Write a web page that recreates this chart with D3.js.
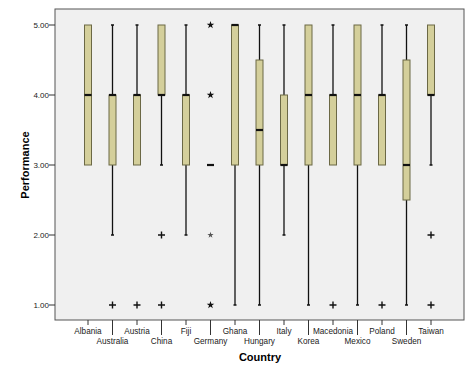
<!DOCTYPE html>
<html><head><meta charset="utf-8">
<script src="https://cdn.jsdelivr.net/npm/d3@7"></script>
<style>body{margin:0;background:#fff}svg{display:block}text{font-family:"Liberation Sans",Arial,sans-serif}</style>
</head><body><svg id="c" width="474" height="379"></svg>
<script>
const countries = ["Albania","Australia","Austria","China","Fiji","Germany","Ghana","Hungary","Italy","Korea","Macedonia","Mexico","Poland","Sweden","Taiwan"];
const whiskerLow  = [3,2,3,3,2,3,1,1,2,1,3,1,3,1,3];
const q1          = [3,3,3,4,3,3,3,3,3,3,3,3,3,2.5,4];
const median      = [4,4,4,4,4,3,5,3.5,3,4,4,4,4,3,4];
const q3          = [5,4,4,5,4,3,5,4.5,4,5,4,5,4,4.5,5];
const whiskerHigh = [5,5,5,4,5,3,5,5,5,5,5,5,5,5,4];
const outliers    = [[],[1],[1],[2,1],[],[],[],[],[],[],[1],[],[1],[],[2,1]];
const extremes    = [[],[],[],[],[],[5,4,2,1],[],[],[],[],[],[],[],[],[]];
const yTicks = [1,2,3,4,5];

const svg = d3.select("#c");
const L=55,R=464,T=9,B=320;
const x = d3.scalePoint().domain(countries).range([88,431]);
const y = d3.scaleLinear().domain([1,5]).range([305,25]);

svg.append("rect").attr("x",L).attr("y",T).attr("width",R-L).attr("height",B-T)
  .attr("fill","#f0f0f0").attr("stroke","#555").attr("stroke-width",1);

// y axis
const yAx = svg.append("g");
yTicks.forEach(t=>{
  yAx.append("line").attr("x1",L-6).attr("x2",L).attr("y1",y(t)).attr("y2",y(t)).attr("stroke","#333");
  yAx.append("text").attr("x",L-6).attr("y",y(t)).attr("dy","0.35em").attr("text-anchor","end")
    .attr("font-size",8).attr("fill","#222").text(d3.format(".2f")(t));
});
// x axis
countries.forEach((c,i)=>{
  const cx=x(c);
  svg.append("line").attr("x1",cx).attr("x2",cx).attr("y1",B).attr("y2",B+(i%2?15:5)).attr("stroke","#333");
  svg.append("text").attr("x",cx).attr("y",B+(i%2?24:14)).attr("text-anchor","middle")
    .attr("font-size",8.2).attr("fill","#222").text(c);
});
svg.append("text").attr("x",260).attr("y",361).attr("text-anchor","middle").attr("font-size",11).attr("font-weight","bold").text("Country");
svg.append("text").attr("transform","translate(29,165) rotate(-90)").attr("text-anchor","middle").attr("font-size",11).attr("font-weight","bold").text("Performance");

const bw=7, cap=3;
countries.forEach((c,i)=>{
  const cx=x(c);
  const g=svg.append("g");
  if(whiskerLow[i]<q1[i]){
    g.append("line").attr("x1",cx).attr("x2",cx).attr("y1",y(q1[i])).attr("y2",y(whiskerLow[i])).attr("stroke","#111").attr("stroke-width",1.3);
    g.append("line").attr("x1",cx-cap/2).attr("x2",cx+cap/2).attr("y1",y(whiskerLow[i])).attr("y2",y(whiskerLow[i])).attr("stroke","#111").attr("stroke-width",1.5);
  }
  if(whiskerHigh[i]>q3[i]){
    g.append("line").attr("x1",cx).attr("x2",cx).attr("y1",y(q3[i])).attr("y2",y(whiskerHigh[i])).attr("stroke","#111").attr("stroke-width",1.3);
    g.append("line").attr("x1",cx-cap/2).attr("x2",cx+cap/2).attr("y1",y(whiskerHigh[i])).attr("y2",y(whiskerHigh[i])).attr("stroke","#111").attr("stroke-width",1.5);
  }
  if(q3[i]>q1[i]){
    g.append("rect").attr("x",cx-bw/2).attr("y",y(q3[i])).attr("width",bw).attr("height",y(q1[i])-y(q3[i]))
      .attr("fill","#d4cf9b").attr("stroke","#6b6845").attr("stroke-width",1);
  }
  g.append("line").attr("x1",cx-bw/2).attr("x2",cx+bw/2).attr("y1",y(median[i])).attr("y2",y(median[i])).attr("stroke","#111").attr("stroke-width",2.2);
  outliers[i].forEach(v=>{
    g.append("path").attr("d",`M${cx-3.5},${y(v)}H${cx+3.5}M${cx},${y(v)-3.5}V${y(v)+3.5}`).attr("stroke","#111").attr("stroke-width",1.4);
  });
  extremes[i].forEach((v,k)=>{
    g.append("path").attr("transform",`translate(${cx},${y(v)})`).attr("d",d3.symbol(d3.symbolStar,v===2?12:18)()).attr("fill",v===2?"#555":"#111");
  });
});
</script></body></html>
